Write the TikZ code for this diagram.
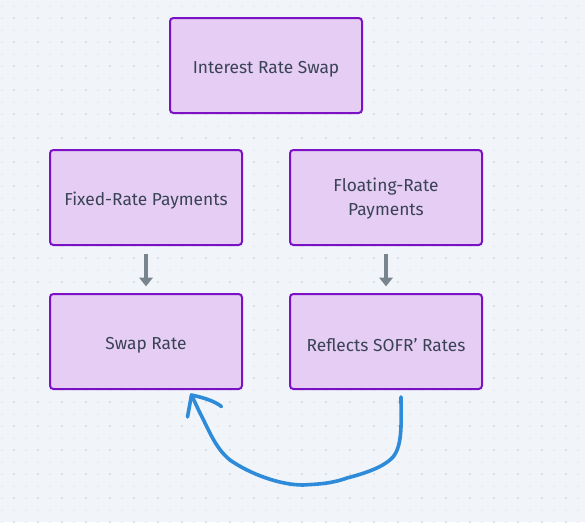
\documentclass[tikz,border=0pt]{standalone}
\usepackage{fontspec}
\setmainfont{Fira Sans}
\usetikzlibrary{arrows.meta}
\usetikzlibrary{positioning}

\definecolor{bgcol}{HTML}{F1F4F8}
\definecolor{dotlight}{HTML}{DCE1E8}
\definecolor{dotdark}{HTML}{C3CAD5}
\definecolor{boxfill}{HTML}{E5CDF4}
\definecolor{boxline}{HTML}{7B10C4}
\definecolor{textcol}{HTML}{3A4255}
\definecolor{arrowcol}{HTML}{78858F}
\definecolor{penblue}{HTML}{2E8BD9}

\begin{document}
\begin{tikzpicture}
	[x=0.75pt, y=-0.75pt,
	every node/.style={font=\fontsize{13}{18}\selectfont, text=textcol},
	box/.style = {draw=boxline, fill=boxfill, line width=1.5pt, rounded corners=2.5pt,
		minimum width=144pt, minimum height=71.25pt, align=center, inner sep=2pt,
		execute at begin node={\rule{0pt}{14.5pt}}},
	flow/.style = {draw=arrowcol, line width=2.4pt, -{Triangle[width=10pt,length=6.5pt]},
		shorten <=6pt, shorten >=5pt},
	pen/.style = {draw=penblue, line width=2.7pt, line cap=round, line join=round}
	]
	% background and dot grid
	\fill[bgcol] (0,0) rectangle (585,522);
	\foreach \i in {0,...,48} {
		\foreach \j in {0,...,43} {
			\pgfmathtruncatemacro{\odd}{mod(\i,2)*mod(\j,2)}
			\ifnum\odd=1
				\fill[dotdark] (2+12*\i,6+12*\j) circle (0.8);
			\else
				\fill[dotlight] (2+12*\i,6+12*\j) circle (0.75);
			\fi
		}
	}

	% boxes
	\node[box] (irs) at (266,65.5) {Interest Rate Swap};
	\node[box] (fixed) at (146,197.5) {Fixed-Rate Payments};
	\node[box, text height=30.5pt] (float) at (386,197.5) {Floating-Rate\\Payments};
	\node[box] (swap) at (146,341.5) {Swap Rate};
	\node[box] (sofr) at (386,341.5) {Reflects SOFR' Rates};

	% arrows
	\draw[flow] (fixed) -- (swap);
	\draw[flow] (float) -- (sofr);

	% hand drawn loop
	\coordinate (start) at (401,397);
	\coordinate (tip) at (191.5,395);
	\draw[pen] (start) .. controls (401,420) and (403,445) .. (393,457)
		.. controls (383,468) and (362,474) .. (347,478)
		.. controls (330,484) and (318,484) .. (303,485)
		.. controls (280,485) and (250,474) .. (230,460)
		.. controls (215,448) and (208,428) .. (200,413)
		-- (tip);
	\draw[pen] (187.5,417) -- (tip) .. controls (205,398) and (214,401) .. (221.5,406.5);
\end{tikzpicture}
\end{document}
